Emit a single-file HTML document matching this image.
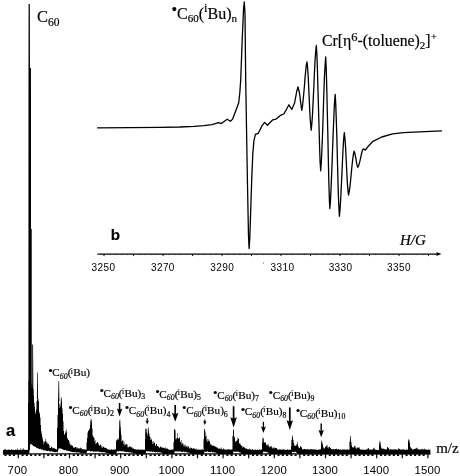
<!DOCTYPE html>
<html lang="en"><head><meta charset="utf-8"><title>Mass spectrum and EPR spectrum of C60 isobutyl radicals</title>
<style>html,body{margin:0;padding:0;background:#fff}body{width:460px;height:476px;overflow:hidden}svg{display:block}text{fill:#000;stroke:#000;stroke-width:0.18px;font-family:'Liberation Serif', serif}.sans{font-family:'Liberation Sans', sans-serif}.num{stroke:none}</style></head><body>
<svg width="460" height="476" viewBox="0 0 460 476">
<rect width="460" height="476" fill="#fff"/>
<path d="M97.6 127.8 L130 127.7 L160 127.4 L180 127 L194 126.4 L204 125.6 L212 124.6 L218.5 122.6 L221.3 123.6 L227.2 119.2 L230.4 121.3 L232.6 119.1 L235.9 110.4 L238.7 102.8 L239.8 93 L240.7 80 L242.2 40 L243.6 8 L244.3 2 L245 14 L245.7 80 L247.4 180 L248.5 236 L249.1 248.5 L249.8 238 L251.7 180 L252.8 153.9 L253.9 140.9 L255.4 134.3 L258.3 133.3 L262 125.7 L264.6 122.4 L267.4 125.2 L272.8 119.8 L276.1 119.1 L280.4 115.4 L283.7 114 L286.5 109.3 L288.9 104.8 L291.8 109.5 L294.6 103 L296.7 91.5 L298 86.8 L299.4 92.5 L301.7 110.3 L302.4 106.9 L303 101.3 L303.7 94.2 L304.4 86.2 L305 78.1 L305.7 71 L306.3 65.4 L307 62 L307.5 66.8 L308.1 74.7 L308.6 84.8 L309.1 96.1 L309.6 107.4 L310.1 117.5 L310.7 125.4 L311.2 130.2 L311.8 124.2 L312.5 114.5 L313.1 101.9 L313.8 87.8 L314.4 73.8 L315 61.2 L315.7 51.5 L316.3 45.5 L316.9 54.4 L317.4 68.8 L317.9 87.3 L318.5 108.2 L319.1 129 L319.6 147.5 L320.1 161.9 L320.7 170.8 L321.3 162.7 L321.9 149.7 L322.6 132.8 L323.2 113.9 L323.8 95 L324.4 78.1 L325.1 65.1 L325.7 57 L326.2 67.8 L326.7 85.1 L327.2 107.6 L327.8 132.8 L328.3 157.9 L328.8 180.4 L329.3 197.7 L329.8 208.5 L330.5 200.4 L331.1 187.3 L331.8 170.4 L332.5 151.5 L333.2 132.6 L333.9 115.7 L334.5 102.6 L335.2 94.5 L335.7 103.2 L336.2 117.1 L336.8 135.2 L337.3 155.4 L337.8 175.6 L338.3 193.7 L338.9 207.6 L339.4 216.3 L340 210.3 L340.6 200.7 L341.2 188.4 L341.9 174.5 L342.5 160.5 L343.1 148.2 L343.7 138.6 L344.3 132.6 L344.8 137 L345.4 144.2 L345.9 153.4 L346.4 163.8 L346.9 174.2 L347.4 183.4 L348 190.6 L348.5 195 L349.2 191.9 L349.9 186.9 L350.6 180.4 L351.3 173.1 L352 165.8 L352.7 159.3 L353.4 154.3 L354.1 151.2 L354.6 152.3 L355 154.2 L355.5 156.6 L356 159.2 L356.4 161.9 L356.9 164.3 L357.3 166.2 L357.8 167.3 L358.5 166 L359.2 163.9 L359.9 161.2 L360.6 158.1 L361.2 155 L361.9 152.3 L362.6 150.2 L363.3 148.9 L363.6 149 L363.8 149.1 L364.1 149.3 L364.4 149.4 L364.6 149.6 L364.9 149.8 L365.1 149.9 L365.4 150 L368.7 145.7 L373 141.3 L381.7 137 L392.6 133.9 L403.5 132.7 L425.2 131.6 L441.5 130.8" fill="none" stroke="#000" stroke-width="1.3" stroke-linejoin="round" stroke-linecap="round"/>
<path d="M97.5 254.1 H437" stroke="#000" stroke-width="1.3" fill="none"/>
<path d="M441.6 254.1 L436.2 252.1 L437 254.1 L436.2 256.1Z" fill="#000"/>
<path d="M104 254.1 V256.1M133.5 254.1 V256.1M163 254.1 V256.1M192.5 254.1 V256.1M222 254.1 V256.1M251.5 254.1 V256.1M281 254.1 V256.1M310.5 254.1 V256.1M340 254.1 V256.1M369.5 254.1 V256.1M399 254.1 V256.1M428.5 254.1 V256.1" stroke="#000" stroke-width="0.9" fill="none"/>
<path d="M104 254.1 V255.4M109.9 254.1 V255.4M115.8 254.1 V255.4M121.7 254.1 V255.4M127.6 254.1 V255.4M133.5 254.1 V255.4M139.4 254.1 V255.4M145.3 254.1 V255.4M151.2 254.1 V255.4M157.1 254.1 V255.4M163 254.1 V255.4M168.9 254.1 V255.4M174.8 254.1 V255.4M180.7 254.1 V255.4M186.6 254.1 V255.4M192.5 254.1 V255.4M198.4 254.1 V255.4M204.3 254.1 V255.4M210.2 254.1 V255.4M216.1 254.1 V255.4M222 254.1 V255.4M227.9 254.1 V255.4M233.8 254.1 V255.4M239.7 254.1 V255.4M245.6 254.1 V255.4M251.5 254.1 V255.4M257.4 254.1 V255.4M263.3 254.1 V255.4M269.2 254.1 V255.4M275.1 254.1 V255.4M281 254.1 V255.4M286.9 254.1 V255.4M292.8 254.1 V255.4M298.7 254.1 V255.4M304.6 254.1 V255.4M310.5 254.1 V255.4M316.4 254.1 V255.4M322.3 254.1 V255.4M328.2 254.1 V255.4M334.1 254.1 V255.4M340 254.1 V255.4M345.9 254.1 V255.4M351.8 254.1 V255.4M357.7 254.1 V255.4M363.6 254.1 V255.4M369.5 254.1 V255.4M375.4 254.1 V255.4M381.3 254.1 V255.4M387.2 254.1 V255.4M393.1 254.1 V255.4M399 254.1 V255.4M404.9 254.1 V255.4M410.8 254.1 V255.4M416.7 254.1 V255.4M422.6 254.1 V255.4M428.5 254.1 V255.4M434.4 254.1 V255.4" stroke="#000" stroke-width="0.5" fill="none" opacity="0.45"/>
<path d="M263.6 262.3 V263.9" stroke="#000" stroke-width="0.8" opacity="0.5"/>
<path d="M3 450 L3.5 450 L3.5 449.9 L4 449.9 L4 450 L4.5 450 L4.5 448.9 L5 448.9 L5 448.9 L5.5 448.9 L5.5 449.4 L6 449.4 L6 450.1 L6.5 450.1 L6.5 449.7 L7 449.7 L7 450.2 L7.5 450.2 L7.5 449.8 L8 449.8 L8 449.6 L8.5 449.6 L8.5 449.7 L9 449.7 L9 449.6 L9.5 449.6 L9.5 450.1 L10 450.1 L10 449.9 L10.5 449.9 L10.5 449.8 L11 449.8 L11 449.5 L11.5 449.5 L11.5 449.2 L12 449.2 L12 449.8 L12.5 449.8 L12.5 449.9 L13 449.9 L13 449.7 L13.5 449.7 L13.5 450 L14 450 L14 449.9 L14.5 449.9 L14.5 450.1 L15 450.1 L15 449.7 L15.5 449.7 L15.5 449.5 L16 449.5 L16 450 L16.5 450 L16.5 449.8 L17 449.8 L17 448.4 L17.5 448.4 L17.5 449.8 L18 449.8 L18 449.7 L18.5 449.7 L18.5 449.9 L19 449.9 L19 449.7 L19.5 449.7 L19.5 450.1 L20 450.1 L20 449.9 L20.5 449.9 L20.5 448.3 L21 448.3 L21 450.1 L21.5 450.1 L21.5 449.6 L22 449.6 L22 449.9 L22.5 449.9 L22.5 448.7 L23 448.7 L23 449.5 L23.5 449.5 L23.5 448.2 L24 448.2 L24 449.6 L24.5 449.6 L24.5 450 L25 450 L25 449.7 L25.5 449.7 L25.5 450 L26 450 L26 450 L26.5 450 L26.5 449.7 L27 449.7 L27 450 L27.5 450 L27.5 449.5 L28 449.5 L28 403 L28.5 403 L28.5 381 L29 381 L29 381 L29.5 381 L29.5 384.3 L30 384.3 L30 380 L30.5 380 L30.5 382 L31 382 L31 389.3 L31.5 389.3 L31.5 383.5 L32 383.5 L32 385.3 L32.5 385.3 L32.5 388.4 L33 388.4 L33 389 L33.5 389 L33.5 395.6 L34 395.6 L34 402.8 L34.5 402.8 L34.5 406.8 L35 406.8 L35 411.5 L35.5 411.5 L35.5 413.9 L36 413.9 L36 409.6 L36.5 409.6 L36.5 401.2 L37 401.2 L37 395.2 L37.5 395.2 L37.5 399.7 L38 399.7 L38 398.7 L38.5 398.7 L38.5 401.6 L39 401.6 L39 411.9 L39.5 411.9 L39.5 413.7 L40 413.7 L40 417.6 L40.5 417.6 L40.5 424.9 L41 424.9 L41 434.1 L41.5 434.1 L41.5 431.3 L42 431.3 L42 436.7 L42.5 436.7 L42.5 439.3 L43 439.3 L43 441.2 L43.5 441.2 L43.5 444.2 L44 444.2 L44 442.5 L44.5 442.5 L44.5 441.2 L45 441.2 L45 441.3 L45.5 441.3 L45.5 438.7 L46 438.7 L46 441.3 L46.5 441.3 L46.5 442.9 L47 442.9 L47 443.9 L47.5 443.9 L47.5 442.6 L48 442.6 L48 443.9 L48.5 443.9 L48.5 444 L49 444 L49 445.1 L49.5 445.1 L49.5 447.7 L50 447.7 L50 447.9 L50.5 447.9 L50.5 448.1 L51 448.1 L51 446.6 L51.5 446.6 L51.5 446.9 L52 446.9 L52 447.8 L52.5 447.8 L52.5 448.5 L53 448.5 L53 448.3 L53.5 448.3 L53.5 447.7 L54 447.7 L54 448.4 L54.5 448.4 L54.5 448.2 L55 448.2 L55 448.8 L55.5 448.8 L55.5 449 L56 449 L56 449 L56.5 449 L56.5 449.7 L57 449.7 L57 428.1 L57.5 428.1 L57.5 415.1 L58 415.1 L58 400.8 L58.5 400.8 L58.5 397.8 L59 397.8 L59 407.8 L59.5 407.8 L59.5 403.6 L60 403.6 L60 403.8 L60.5 403.8 L60.5 406.3 L61 406.3 L61 399.2 L61.5 399.2 L61.5 401.9 L62 401.9 L62 408.3 L62.5 408.3 L62.5 413.7 L63 413.7 L63 421.5 L63.5 421.5 L63.5 430.9 L64 430.9 L64 434.5 L64.5 434.5 L64.5 434.3 L65 434.3 L65 433.1 L65.5 433.1 L65.5 430.9 L66 430.9 L66 429.2 L66.5 429.2 L66.5 432.3 L67 432.3 L67 438.7 L67.5 438.7 L67.5 437.7 L68 437.7 L68 440.3 L68.5 440.3 L68.5 439.9 L69 439.9 L69 441.2 L69.5 441.2 L69.5 444 L70 444 L70 443.6 L70.5 443.6 L70.5 445.8 L71 445.8 L71 445 L71.5 445 L71.5 445.2 L72 445.2 L72 445.4 L72.5 445.4 L72.5 445.9 L73 445.9 L73 446.9 L73.5 446.9 L73.5 448 L74 448 L74 447.2 L74.5 447.2 L74.5 448.1 L75 448.1 L75 446.9 L75.5 446.9 L75.5 447 L76 447 L76 447.2 L76.5 447.2 L76.5 448.4 L77 448.4 L77 447.6 L77.5 447.6 L77.5 448.4 L78 448.4 L78 448.5 L78.5 448.5 L78.5 448.2 L79 448.2 L79 448.6 L79.5 448.6 L79.5 448.4 L80 448.4 L80 448.4 L80.5 448.4 L80.5 447.4 L81 447.4 L81 448.1 L81.5 448.1 L81.5 448.8 L82 448.8 L82 449.5 L82.5 449.5 L82.5 448.9 L83 448.9 L83 449.1 L83.5 449.1 L83.5 449.7 L84 449.7 L84 449.8 L84.5 449.8 L84.5 449.2 L85 449.2 L85 449.4 L85.5 449.4 L85.5 449.6 L86 449.6 L86 449.7 L86.5 449.7 L86.5 442.4 L87 442.4 L87 432.6 L87.5 432.6 L87.5 437.9 L88 437.9 L88 430.7 L88.5 430.7 L88.5 430.8 L89 430.8 L89 429.5 L89.5 429.5 L89.5 428.4 L90 428.4 L90 425.2 L90.5 425.2 L90.5 420.8 L91 420.8 L91 419.8 L91.5 419.8 L91.5 422.7 L92 422.7 L92 428.5 L92.5 428.5 L92.5 435.4 L93 435.4 L93 437.5 L93.5 437.5 L93.5 436.5 L94 436.5 L94 438.1 L94.5 438.1 L94.5 441.4 L95 441.4 L95 440.2 L95.5 440.2 L95.5 444.1 L96 444.1 L96 443.6 L96.5 443.6 L96.5 442.9 L97 442.9 L97 442.1 L97.5 442.1 L97.5 442.1 L98 442.1 L98 444.6 L98.5 444.6 L98.5 443 L99 443 L99 445.7 L99.5 445.7 L99.5 445.2 L100 445.2 L100 444.3 L100.5 444.3 L100.5 445.2 L101 445.2 L101 445.5 L101.5 445.5 L101.5 447.5 L102 447.5 L102 446.4 L102.5 446.4 L102.5 447.9 L103 447.9 L103 446.6 L103.5 446.6 L103.5 447 L104 447 L104 447.5 L104.5 447.5 L104.5 447.8 L105 447.8 L105 447.7 L105.5 447.7 L105.5 447.9 L106 447.9 L106 448.1 L106.5 448.1 L106.5 448.6 L107 448.6 L107 448.9 L107.5 448.9 L107.5 449.4 L108 449.4 L108 449.3 L108.5 449.3 L108.5 449.7 L109 449.7 L109 449.7 L109.5 449.7 L109.5 449.6 L110 449.6 L110 449.8 L110.5 449.8 L110.5 449.7 L111 449.7 L111 449.3 L111.5 449.3 L111.5 449.5 L112 449.5 L112 449.8 L112.5 449.8 L112.5 449.7 L113 449.7 L113 449.7 L113.5 449.7 L113.5 449.3 L114 449.3 L114 449.8 L114.5 449.8 L114.5 449.6 L115 449.6 L115 449.3 L115.5 449.3 L115.5 449.4 L116 449.4 L116 441.2 L116.5 441.2 L116.5 439.8 L117 439.8 L117 439.5 L117.5 439.5 L117.5 439.3 L118 439.3 L118 439.9 L118.5 439.9 L118.5 437.9 L119 437.9 L119 430.8 L119.5 430.8 L119.5 420.8 L120 420.8 L120 427 L120.5 427 L120.5 431.4 L121 431.4 L121 434.8 L121.5 434.8 L121.5 441.5 L122 441.5 L122 441 L122.5 441 L122.5 440 L123 440 L123 440.8 L123.5 440.8 L123.5 444.3 L124 444.3 L124 445.4 L124.5 445.4 L124.5 442.2 L125 442.2 L125 445.2 L125.5 445.2 L125.5 444.1 L126 444.1 L126 444 L126.5 444 L126.5 444.3 L127 444.3 L127 444.6 L127.5 444.6 L127.5 447.2 L128 447.2 L128 446.9 L128.5 446.9 L128.5 447.4 L129 447.4 L129 446 L129.5 446 L129.5 446.7 L130 446.7 L130 446.4 L130.5 446.4 L130.5 447.2 L131 447.2 L131 447 L131.5 447 L131.5 447.4 L132 447.4 L132 447.4 L132.5 447.4 L132.5 448.8 L133 448.8 L133 448.4 L133.5 448.4 L133.5 448.5 L134 448.5 L134 449.2 L134.5 449.2 L134.5 449.1 L135 449.1 L135 449.5 L135.5 449.5 L135.5 449.2 L136 449.2 L136 449.2 L136.5 449.2 L136.5 449.7 L137 449.7 L137 449.8 L137.5 449.8 L137.5 449.6 L138 449.6 L138 449.3 L138.5 449.3 L138.5 449.7 L139 449.7 L139 449.9 L139.5 449.9 L139.5 449.5 L140 449.5 L140 449.5 L140.5 449.5 L140.5 449.7 L141 449.7 L141 449.9 L141.5 449.9 L141.5 449.6 L142 449.6 L142 449.6 L142.5 449.6 L142.5 449.7 L143 449.7 L143 449.5 L143.5 449.5 L143.5 450 L144 450 L144 449.5 L144.5 449.5 L144.5 450.1 L145 450.1 L145 438.4 L145.5 438.4 L145.5 429.2 L146 429.2 L146 429 L146.5 429 L146.5 432.5 L147 432.5 L147 433.7 L147.5 433.7 L147.5 435.9 L148 435.9 L148 429.8 L148.5 429.8 L148.5 431.7 L149 431.7 L149 433.7 L149.5 433.7 L149.5 436.5 L150 436.5 L150 437.1 L150.5 437.1 L150.5 440.1 L151 440.1 L151 438.8 L151.5 438.8 L151.5 439.8 L152 439.8 L152 441.4 L152.5 441.4 L152.5 444 L153 444 L153 441.2 L153.5 441.2 L153.5 443.8 L154 443.8 L154 443.1 L154.5 443.1 L154.5 442.3 L155 442.3 L155 445.7 L155.5 445.7 L155.5 445.6 L156 445.6 L156 443.9 L156.5 443.9 L156.5 444.1 L157 444.1 L157 445.9 L157.5 445.9 L157.5 446.3 L158 446.3 L158 446.8 L158.5 446.8 L158.5 446.5 L159 446.5 L159 447.4 L159.5 447.4 L159.5 448 L160 448 L160 446.6 L160.5 446.6 L160.5 446.7 L161 446.7 L161 447.7 L161.5 447.7 L161.5 446.9 L162 446.9 L162 447.8 L162.5 447.8 L162.5 447.4 L163 447.4 L163 447.4 L163.5 447.4 L163.5 448 L164 448 L164 448.5 L164.5 448.5 L164.5 448 L165 448 L165 448.5 L165.5 448.5 L165.5 447.3 L166 447.3 L166 448.5 L166.5 448.5 L166.5 448.8 L167 448.8 L167 448.9 L167.5 448.9 L167.5 448.3 L168 448.3 L168 449.4 L168.5 449.4 L168.5 449.6 L169 449.6 L169 449.5 L169.5 449.5 L169.5 449.9 L170 449.9 L170 449.9 L170.5 449.9 L170.5 449.6 L171 449.6 L171 449.6 L171.5 449.6 L171.5 449.8 L172 449.8 L172 449.6 L172.5 449.6 L172.5 449.8 L173 449.8 L173 449.5 L173.5 449.5 L173.5 442.1 L174 442.1 L174 431.1 L174.5 431.1 L174.5 429.3 L175 429.3 L175 430.3 L175.5 430.3 L175.5 439 L176 439 L176 438 L176.5 438 L176.5 439.2 L177 439.2 L177 433 L177.5 433 L177.5 438 L178 438 L178 438.7 L178.5 438.7 L178.5 438.4 L179 438.4 L179 437.7 L179.5 437.7 L179.5 437.5 L180 437.5 L180 441.7 L180.5 441.7 L180.5 442.1 L181 442.1 L181 440.1 L181.5 440.1 L181.5 444.4 L182 444.4 L182 442.8 L182.5 442.8 L182.5 443.8 L183 443.8 L183 443.7 L183.5 443.7 L183.5 446.3 L184 446.3 L184 444.7 L184.5 444.7 L184.5 446.2 L185 446.2 L185 444.7 L185.5 444.7 L185.5 447.1 L186 447.1 L186 446.7 L186.5 446.7 L186.5 445.8 L187 445.8 L187 447.8 L187.5 447.8 L187.5 446.1 L188 446.1 L188 446.5 L188.5 446.5 L188.5 446.4 L189 446.4 L189 448.3 L189.5 448.3 L189.5 448.5 L190 448.5 L190 447.3 L190.5 447.3 L190.5 448.8 L191 448.8 L191 447.8 L191.5 447.8 L191.5 447.9 L192 447.9 L192 449 L192.5 449 L192.5 448.3 L193 448.3 L193 448.5 L193.5 448.5 L193.5 448.3 L194 448.3 L194 448.5 L194.5 448.5 L194.5 448.7 L195 448.7 L195 449.3 L195.5 449.3 L195.5 449 L196 449 L196 448.2 L196.5 448.2 L196.5 449.9 L197 449.9 L197 449.9 L197.5 449.9 L197.5 449.3 L198 449.3 L198 449.6 L198.5 449.6 L198.5 449.6 L199 449.6 L199 449.6 L199.5 449.6 L199.5 449.8 L200 449.8 L200 449.9 L200.5 449.9 L200.5 449.4 L201 449.4 L201 449.5 L201.5 449.5 L201.5 449.6 L202 449.6 L202 449.5 L202.5 449.5 L202.5 449.5 L203 449.5 L203 450 L203.5 450 L203.5 439.2 L204 439.2 L204 431.1 L204.5 431.1 L204.5 437.5 L205 437.5 L205 431.4 L205.5 431.4 L205.5 436.8 L206 436.8 L206 435.4 L206.5 435.4 L206.5 440.5 L207 440.5 L207 442 L207.5 442 L207.5 439 L208 439 L208 439.2 L208.5 439.2 L208.5 441.1 L209 441.1 L209 440.5 L209.5 440.5 L209.5 442 L210 442 L210 444.8 L210.5 444.8 L210.5 443.5 L211 443.5 L211 445.2 L211.5 445.2 L211.5 444.8 L212 444.8 L212 444.8 L212.5 444.8 L212.5 446 L213 446 L213 445.5 L213.5 445.5 L213.5 445.9 L214 445.9 L214 445.9 L214.5 445.9 L214.5 446.2 L215 446.2 L215 447 L215.5 447 L215.5 446.6 L216 446.6 L216 447.5 L216.5 447.5 L216.5 447.1 L217 447.1 L217 448.2 L217.5 448.2 L217.5 447.6 L218 447.6 L218 449 L218.5 449 L218.5 448.3 L219 448.3 L219 448.2 L219.5 448.2 L219.5 448.8 L220 448.8 L220 448.4 L220.5 448.4 L220.5 448.9 L221 448.9 L221 447.4 L221.5 447.4 L221.5 449.5 L222 449.5 L222 449.5 L222.5 449.5 L222.5 449 L223 449 L223 448.1 L223.5 448.1 L223.5 449.6 L224 449.6 L224 449.4 L224.5 449.4 L224.5 449.4 L225 449.4 L225 449.2 L225.5 449.2 L225.5 449.7 L226 449.7 L226 449.4 L226.5 449.4 L226.5 449.8 L227 449.8 L227 449.2 L227.5 449.2 L227.5 449.8 L228 449.8 L228 449.2 L228.5 449.2 L228.5 449.5 L229 449.5 L229 449.6 L229.5 449.6 L229.5 449.3 L230 449.3 L230 449.4 L230.5 449.4 L230.5 449.9 L231 449.9 L231 449.4 L231.5 449.4 L231.5 449.6 L232 449.6 L232 449.6 L232.5 449.6 L232.5 436.2 L233 436.2 L233 431 L233.5 431 L233.5 437 L234 437 L234 436.2 L234.5 436.2 L234.5 438 L235 438 L235 441.1 L235.5 441.1 L235.5 442.2 L236 442.2 L236 440.8 L236.5 440.8 L236.5 441 L237 441 L237 440.2 L237.5 440.2 L237.5 437.6 L238 437.6 L238 438.7 L238.5 438.7 L238.5 438.8 L239 438.8 L239 443.7 L239.5 443.7 L239.5 443.1 L240 443.1 L240 443.7 L240.5 443.7 L240.5 445.1 L241 445.1 L241 445.7 L241.5 445.7 L241.5 445.8 L242 445.8 L242 446.1 L242.5 446.1 L242.5 447.7 L243 447.7 L243 447.2 L243.5 447.2 L243.5 446.8 L244 446.8 L244 447.6 L244.5 447.6 L244.5 447.6 L245 447.6 L245 449 L245.5 449 L245.5 447.8 L246 447.8 L246 448.6 L246.5 448.6 L246.5 448.6 L247 448.6 L247 448.9 L247.5 448.9 L247.5 449.4 L248 449.4 L248 448.9 L248.5 448.9 L248.5 449.6 L249 449.6 L249 448.6 L249.5 448.6 L249.5 449.3 L250 449.3 L250 449.4 L250.5 449.4 L250.5 449.4 L251 449.4 L251 449.9 L251.5 449.9 L251.5 449.5 L252 449.5 L252 449.5 L252.5 449.5 L252.5 449 L253 449 L253 449.9 L253.5 449.9 L253.5 449.9 L254 449.9 L254 449.8 L254.5 449.8 L254.5 449.7 L255 449.7 L255 449.5 L255.5 449.5 L255.5 449.7 L256 449.7 L256 449.9 L256.5 449.9 L256.5 450 L257 450 L257 449.6 L257.5 449.6 L257.5 449.5 L258 449.5 L258 449.7 L258.5 449.7 L258.5 449.9 L259 449.9 L259 449.4 L259.5 449.4 L259.5 449.4 L260 449.4 L260 449.5 L260.5 449.5 L260.5 450 L261 450 L261 449.8 L261.5 449.8 L261.5 449.3 L262 449.3 L262 443 L262.5 443 L262.5 438.4 L263 438.4 L263 438.9 L263.5 438.9 L263.5 442.8 L264 442.8 L264 442 L264.5 442 L264.5 443 L265 443 L265 442.5 L265.5 442.5 L265.5 442.5 L266 442.5 L266 444.9 L266.5 444.9 L266.5 444.7 L267 444.7 L267 444.4 L267.5 444.4 L267.5 445.8 L268 445.8 L268 443.7 L268.5 443.7 L268.5 446.3 L269 446.3 L269 447.6 L269.5 447.6 L269.5 446.2 L270 446.2 L270 446.8 L270.5 446.8 L270.5 446.2 L271 446.2 L271 445.8 L271.5 445.8 L271.5 447.2 L272 447.2 L272 447.4 L272.5 447.4 L272.5 448.7 L273 448.7 L273 448.2 L273.5 448.2 L273.5 447.4 L274 447.4 L274 448.6 L274.5 448.6 L274.5 447.2 L275 447.2 L275 447.9 L275.5 447.9 L275.5 448 L276 448 L276 448 L276.5 448 L276.5 448.3 L277 448.3 L277 449.6 L277.5 449.6 L277.5 449.4 L278 449.4 L278 449.6 L278.5 449.6 L278.5 449.8 L279 449.8 L279 449.5 L279.5 449.5 L279.5 449.3 L280 449.3 L280 449.8 L280.5 449.8 L280.5 449.3 L281 449.3 L281 449.8 L281.5 449.8 L281.5 449.8 L282 449.8 L282 449.4 L282.5 449.4 L282.5 449.4 L283 449.4 L283 448.8 L283.5 448.8 L283.5 449.8 L284 449.8 L284 449.8 L284.5 449.8 L284.5 449.7 L285 449.7 L285 449.9 L285.5 449.9 L285.5 449.5 L286 449.5 L286 450 L286.5 450 L286.5 449.9 L287 449.9 L287 448.9 L287.5 448.9 L287.5 449.8 L288 449.8 L288 449.8 L288.5 449.8 L288.5 449.9 L289 449.9 L289 449.5 L289.5 449.5 L289.5 449.8 L290 449.8 L290 449.8 L290.5 449.8 L290.5 449.7 L291 449.7 L291 446 L291.5 446 L291.5 440.1 L292 440.1 L292 437 L292.5 437 L292.5 438.5 L293 438.5 L293 439.7 L293.5 439.7 L293.5 443.1 L294 443.1 L294 445.4 L294.5 445.4 L294.5 445.5 L295 445.5 L295 446.1 L295.5 446.1 L295.5 445.4 L296 445.4 L296 445.5 L296.5 445.5 L296.5 444.1 L297 444.1 L297 441.8 L297.5 441.8 L297.5 444.4 L298 444.4 L298 447.5 L298.5 447.5 L298.5 446.3 L299 446.3 L299 448 L299.5 448 L299.5 448 L300 448 L300 446 L300.5 446 L300.5 446.5 L301 446.5 L301 447.4 L301.5 447.4 L301.5 446.9 L302 446.9 L302 449.3 L302.5 449.3 L302.5 449.3 L303 449.3 L303 449 L303.5 449 L303.5 449.4 L304 449.4 L304 449.1 L304.5 449.1 L304.5 448.9 L305 448.9 L305 449.1 L305.5 449.1 L305.5 449.2 L306 449.2 L306 449.6 L306.5 449.6 L306.5 449.6 L307 449.6 L307 449 L307.5 449 L307.5 449.3 L308 449.3 L308 449.3 L308.5 449.3 L308.5 449.4 L309 449.4 L309 449.6 L309.5 449.6 L309.5 449.6 L310 449.6 L310 449.1 L310.5 449.1 L310.5 449.6 L311 449.6 L311 449.1 L311.5 449.1 L311.5 449.5 L312 449.5 L312 449.3 L312.5 449.3 L312.5 449.4 L313 449.4 L313 449.3 L313.5 449.3 L313.5 449.4 L314 449.4 L314 449.7 L314.5 449.7 L314.5 449.3 L315 449.3 L315 449.3 L315.5 449.3 L315.5 449.7 L316 449.7 L316 449.7 L316.5 449.7 L316.5 449.5 L317 449.5 L317 449.9 L317.5 449.9 L317.5 449.9 L318 449.9 L318 448.9 L318.5 448.9 L318.5 449.9 L319 449.9 L319 449.6 L319.5 449.6 L319.5 449.5 L320 449.5 L320 449.7 L320.5 449.7 L320.5 448.7 L321 448.7 L321 444.2 L321.5 444.2 L321.5 442.8 L322 442.8 L322 442.5 L322.5 442.5 L322.5 444.8 L323 444.8 L323 446.7 L323.5 446.7 L323.5 448.6 L324 448.6 L324 448.3 L324.5 448.3 L324.5 448.6 L325 448.6 L325 447.2 L325.5 447.2 L325.5 446.5 L326 446.5 L326 446.5 L326.5 446.5 L326.5 445.2 L327 445.2 L327 445.3 L327.5 445.3 L327.5 447.7 L328 447.7 L328 448.6 L328.5 448.6 L328.5 447.1 L329 447.1 L329 446.7 L329.5 446.7 L329.5 447.1 L330 447.1 L330 448.3 L330.5 448.3 L330.5 448.1 L331 448.1 L331 449 L331.5 449 L331.5 449.2 L332 449.2 L332 449.1 L332.5 449.1 L332.5 449.6 L333 449.6 L333 449 L333.5 449 L333.5 449 L334 449 L334 449.6 L334.5 449.6 L334.5 449.5 L335 449.5 L335 449.1 L335.5 449.1 L335.5 449 L336 449 L336 449.3 L336.5 449.3 L336.5 448.4 L337 448.4 L337 449.5 L337.5 449.5 L337.5 449.5 L338 449.5 L338 449.1 L338.5 449.1 L338.5 449.3 L339 449.3 L339 449.7 L339.5 449.7 L339.5 449.5 L340 449.5 L340 449.4 L340.5 449.4 L340.5 449.6 L341 449.6 L341 449.7 L341.5 449.7 L341.5 449.7 L342 449.7 L342 449.6 L342.5 449.6 L342.5 449.4 L343 449.4 L343 449.2 L343.5 449.2 L343.5 449.7 L344 449.7 L344 449.6 L344.5 449.6 L344.5 449.5 L345 449.5 L345 449.7 L345.5 449.7 L345.5 449.7 L346 449.7 L346 449.4 L346.5 449.4 L346.5 449.8 L347 449.8 L347 449.6 L347.5 449.6 L347.5 449.3 L348 449.3 L348 449.4 L348.5 449.4 L348.5 450 L349 450 L349 449.4 L349.5 449.4 L349.5 441.7 L350 441.7 L350 438.3 L350.5 438.3 L350.5 440.1 L351 440.1 L351 442.1 L351.5 442.1 L351.5 445.6 L352 445.6 L352 447.2 L352.5 447.2 L352.5 447.3 L353 447.3 L353 447.1 L353.5 447.1 L353.5 448 L354 448 L354 445.7 L354.5 445.7 L354.5 446.5 L355 446.5 L355 446.2 L355.5 446.2 L355.5 448.3 L356 448.3 L356 447.7 L356.5 447.7 L356.5 449.1 L357 449.1 L357 447.7 L357.5 447.7 L357.5 447.3 L358 447.3 L358 447.4 L358.5 447.4 L358.5 447.8 L359 447.8 L359 447.2 L359.5 447.2 L359.5 448.8 L360 448.8 L360 449.3 L360.5 449.3 L360.5 449.8 L361 449.8 L361 449.6 L361.5 449.6 L361.5 449.8 L362 449.8 L362 449.4 L362.5 449.4 L362.5 449.8 L363 449.8 L363 449.7 L363.5 449.7 L363.5 449.6 L364 449.6 L364 449.9 L364.5 449.9 L364.5 449.7 L365 449.7 L365 449.8 L365.5 449.8 L365.5 449.5 L366 449.5 L366 449.3 L366.5 449.3 L366.5 449.5 L367 449.5 L367 449.4 L367.5 449.4 L367.5 448.4 L368 448.4 L368 448.2 L368.5 448.2 L368.5 448.3 L369 448.3 L369 449.4 L369.5 449.4 L369.5 449.5 L370 449.5 L370 449.5 L370.5 449.5 L370.5 449.7 L371 449.7 L371 449.9 L371.5 449.9 L371.5 449.3 L372 449.3 L372 449.9 L372.5 449.9 L372.5 448.9 L373 448.9 L373 448.8 L373.5 448.8 L373.5 447.9 L374 447.9 L374 447.6 L374.5 447.6 L374.5 449.4 L375 449.4 L375 449.4 L375.5 449.4 L375.5 449.8 L376 449.8 L376 449.4 L376.5 449.4 L376.5 449.9 L377 449.9 L377 449.9 L377.5 449.9 L377.5 449.9 L378 449.9 L378 450 L378.5 450 L378.5 449.9 L379 449.9 L379 445.6 L379.5 445.6 L379.5 443.2 L380 443.2 L380 442.5 L380.5 442.5 L380.5 445.6 L381 445.6 L381 447.4 L381.5 447.4 L381.5 448.4 L382 448.4 L382 448.4 L382.5 448.4 L382.5 449.1 L383 449.1 L383 448.2 L383.5 448.2 L383.5 449.3 L384 449.3 L384 449.3 L384.5 449.3 L384.5 449 L385 449 L385 449.3 L385.5 449.3 L385.5 449.4 L386 449.4 L386 449.2 L386.5 449.2 L386.5 449.6 L387 449.6 L387 447 L387.5 447 L387.5 446.9 L388 446.9 L388 448.2 L388.5 448.2 L388.5 448 L389 448 L389 449.6 L389.5 449.6 L389.5 449.7 L390 449.7 L390 449.3 L390.5 449.3 L390.5 449 L391 449 L391 449.4 L391.5 449.4 L391.5 449.6 L392 449.6 L392 449.4 L392.5 449.4 L392.5 449.6 L393 449.6 L393 449.4 L393.5 449.4 L393.5 449.4 L394 449.4 L394 449.3 L394.5 449.3 L394.5 449.4 L395 449.4 L395 449.3 L395.5 449.3 L395.5 449.8 L396 449.8 L396 449.7 L396.5 449.7 L396.5 449.3 L397 449.3 L397 449.5 L397.5 449.5 L397.5 449.7 L398 449.7 L398 448 L398.5 448 L398.5 449.5 L399 449.5 L399 448.7 L399.5 448.7 L399.5 448.9 L400 448.9 L400 449.6 L400.5 449.6 L400.5 449.8 L401 449.8 L401 449.6 L401.5 449.6 L401.5 449.7 L402 449.7 L402 449.6 L402.5 449.6 L402.5 449.4 L403 449.4 L403 449.6 L403.5 449.6 L403.5 449.3 L404 449.3 L404 449.3 L404.5 449.3 L404.5 449.9 L405 449.9 L405 449.5 L405.5 449.5 L405.5 449.9 L406 449.9 L406 449.5 L406.5 449.5 L406.5 449.6 L407 449.6 L407 449.6 L407.5 449.6 L407.5 450 L408 450 L408 441 L408.5 441 L408.5 441.2 L409 441.2 L409 440.3 L409.5 440.3 L409.5 442.7 L410 442.7 L410 446.7 L410.5 446.7 L410.5 447.5 L411 447.5 L411 448.8 L411.5 448.8 L411.5 448.1 L412 448.1 L412 449.4 L412.5 449.4 L412.5 449.6 L413 449.6 L413 449.2 L413.5 449.2 L413.5 449.4 L414 449.4 L414 449.1 L414.5 449.1 L414.5 448.9 L415 448.9 L415 449 L415.5 449 L415.5 448.3 L416 448.3 L416 448.6 L416.5 448.6 L416.5 447.7 L417 447.7 L417 447.8 L417.5 447.8 L417.5 449.5 L418 449.5 L418 449 L418.5 449 L418.5 449.5 L419 449.5 L419 449.5 L419.5 449.5 L419.5 449.5 L420 449.5 L420 449.4 L420.5 449.4 L420.5 449.2 L421 449.2 L421 449.6 L421.5 449.6 L421.5 449.1 L422 449.1 L422 449.7 L422.5 449.7 L422.5 448.6 L423 448.6 L423 449.2 L423.5 449.2 L423.5 449.5 L424 449.5 L424 448.6 L424.5 448.6 L424.5 449.5 L425 449.5 L425 449.3 L425.5 449.3 L425.5 449.5 L426 449.5 L426 449.7 L426.5 449.7 L426.5 449.5 L427 449.5 L427 449.9 L427.5 449.9 L427.5 449.7 L428 449.7 L428 449.3 L428.5 449.3 L428.5 449.8 L429 449.8 L429 449.5 L429.5 449.5 L429.5 450 L430 450 L430 449.8 L430.4 449.8 L430.4 454.2 L430 454.2 L430 454.2 L429.5 454.2 L429.5 454.2 L429 454.2 L429 454.2 L428.5 454.2 L428.5 454.2 L428 454.2 L428 454.2 L427.5 454.2 L427.5 454.2 L427 454.2 L427 454.2 L426.5 454.2 L426.5 454.2 L426 454.2 L426 454.2 L425.5 454.2 L425.5 454.2 L425 454.2 L425 454.2 L424.5 454.2 L424.5 454.2 L424 454.2 L424 454.2 L423.5 454.2 L423.5 454.2 L423 454.2 L423 454.2 L422.5 454.2 L422.5 454.2 L422 454.2 L422 454.2 L421.5 454.2 L421.5 454.2 L421 454.2 L421 454.2 L420.5 454.2 L420.5 454.2 L420 454.2 L420 454.2 L419.5 454.2 L419.5 454.2 L419 454.2 L419 454.2 L418.5 454.2 L418.5 454.2 L418 454.2 L418 454.2 L417.5 454.2 L417.5 454.2 L417 454.2 L417 454.2 L416.5 454.2 L416.5 454.2 L416 454.2 L416 454.2 L415.5 454.2 L415.5 454.2 L415 454.2 L415 454.2 L414.5 454.2 L414.5 454.2 L414 454.2 L414 454.2 L413.5 454.2 L413.5 454.2 L413 454.2 L413 454.2 L412.5 454.2 L412.5 454.2 L412 454.2 L412 454.2 L411.5 454.2 L411.5 454.2 L411 454.2 L411 454.2 L410.5 454.2 L410.5 454.2 L410 454.2 L410 454.2 L409.5 454.2 L409.5 454.2 L409 454.2 L409 454.2 L408.5 454.2 L408.5 454.2 L408 454.2 L408 454.2 L407.5 454.2 L407.5 454.2 L407 454.2 L407 454.2 L406.5 454.2 L406.5 454.2 L406 454.2 L406 454.2 L405.5 454.2 L405.5 454.2 L405 454.2 L405 454.2 L404.5 454.2 L404.5 454.2 L404 454.2 L404 454.2 L403.5 454.2 L403.5 454.2 L403 454.2 L403 454.2 L402.5 454.2 L402.5 454.2 L402 454.2 L402 454.2 L401.5 454.2 L401.5 454.2 L401 454.2 L401 454.2 L400.5 454.2 L400.5 454.2 L400 454.2 L400 454.2 L399.5 454.2 L399.5 454.2 L399 454.2 L399 454.2 L398.5 454.2 L398.5 454.2 L398 454.2 L398 454.2 L397.5 454.2 L397.5 454.2 L397 454.2 L397 454.2 L396.5 454.2 L396.5 454.2 L396 454.2 L396 454.2 L395.5 454.2 L395.5 454.2 L395 454.2 L395 454.2 L394.5 454.2 L394.5 454.2 L394 454.2 L394 454.2 L393.5 454.2 L393.5 454.2 L393 454.2 L393 454.2 L392.5 454.2 L392.5 454.2 L392 454.2 L392 454.2 L391.5 454.2 L391.5 454.2 L391 454.2 L391 454.2 L390.5 454.2 L390.5 454.2 L390 454.2 L390 454.2 L389.5 454.2 L389.5 454.2 L389 454.2 L389 454.2 L388.5 454.2 L388.5 454.2 L388 454.2 L388 454.2 L387.5 454.2 L387.5 454.2 L387 454.2 L387 454.2 L386.5 454.2 L386.5 454.2 L386 454.2 L386 454.2 L385.5 454.2 L385.5 454.2 L385 454.2 L385 454.2 L384.5 454.2 L384.5 454.2 L384 454.2 L384 454.2 L383.5 454.2 L383.5 454.2 L383 454.2 L383 454.2 L382.5 454.2 L382.5 454.2 L382 454.2 L382 454.2 L381.5 454.2 L381.5 454.2 L381 454.2 L381 454.2 L380.5 454.2 L380.5 454.2 L380 454.2 L380 454.2 L379.5 454.2 L379.5 454.2 L379 454.2 L379 454.2 L378.5 454.2 L378.5 454.2 L378 454.2 L378 454.2 L377.5 454.2 L377.5 454.2 L377 454.2 L377 454.2 L376.5 454.2 L376.5 454.2 L376 454.2 L376 454.2 L375.5 454.2 L375.5 454.2 L375 454.2 L375 454.2 L374.5 454.2 L374.5 454.2 L374 454.2 L374 454.2 L373.5 454.2 L373.5 454.2 L373 454.2 L373 454.2 L372.5 454.2 L372.5 454.2 L372 454.2 L372 454.2 L371.5 454.2 L371.5 454.2 L371 454.2 L371 454.2 L370.5 454.2 L370.5 454.2 L370 454.2 L370 454.2 L369.5 454.2 L369.5 454.2 L369 454.2 L369 454.2 L368.5 454.2 L368.5 454.2 L368 454.2 L368 454.2 L367.5 454.2 L367.5 454.2 L367 454.2 L367 454.2 L366.5 454.2 L366.5 454.2 L366 454.2 L366 454.2 L365.5 454.2 L365.5 454.2 L365 454.2 L365 454.2 L364.5 454.2 L364.5 454.2 L364 454.2 L364 454.2 L363.5 454.2 L363.5 454.2 L363 454.2 L363 454.2 L362.5 454.2 L362.5 454.2 L362 454.2 L362 454.2 L361.5 454.2 L361.5 454.2 L361 454.2 L361 454.2 L360.5 454.2 L360.5 454.2 L360 454.2 L360 454.2 L359.5 454.2 L359.5 454.2 L359 454.2 L359 454.2 L358.5 454.2 L358.5 454.2 L358 454.2 L358 454.2 L357.5 454.2 L357.5 454.2 L357 454.2 L357 454.2 L356.5 454.2 L356.5 454.2 L356 454.2 L356 454.2 L355.5 454.2 L355.5 454.2 L355 454.2 L355 454.2 L354.5 454.2 L354.5 454.2 L354 454.2 L354 454.2 L353.5 454.2 L353.5 454.2 L353 454.2 L353 454.2 L352.5 454.2 L352.5 454.2 L352 454.2 L352 454.2 L351.5 454.2 L351.5 454.2 L351 454.2 L351 454.2 L350.5 454.2 L350.5 454.2 L350 454.2 L350 454.2 L349.5 454.2 L349.5 454.2 L349 454.2 L349 454.2 L348.5 454.2 L348.5 454.2 L348 454.2 L348 454.2 L347.5 454.2 L347.5 454.2 L347 454.2 L347 454.2 L346.5 454.2 L346.5 454.2 L346 454.2 L346 454.2 L345.5 454.2 L345.5 454.2 L345 454.2 L345 454.2 L344.5 454.2 L344.5 454.2 L344 454.2 L344 454.2 L343.5 454.2 L343.5 454.2 L343 454.2 L343 454.2 L342.5 454.2 L342.5 454.2 L342 454.2 L342 454.2 L341.5 454.2 L341.5 454.2 L341 454.2 L341 454.2 L340.5 454.2 L340.5 454.2 L340 454.2 L340 454.2 L339.5 454.2 L339.5 454.2 L339 454.2 L339 454.2 L338.5 454.2 L338.5 454.2 L338 454.2 L338 454.2 L337.5 454.2 L337.5 454.2 L337 454.2 L337 454.2 L336.5 454.2 L336.5 454.2 L336 454.2 L336 454.2 L335.5 454.2 L335.5 454.2 L335 454.2 L335 454.2 L334.5 454.2 L334.5 454.2 L334 454.2 L334 454.2 L333.5 454.2 L333.5 454.2 L333 454.2 L333 454.2 L332.5 454.2 L332.5 454.2 L332 454.2 L332 454.2 L331.5 454.2 L331.5 454.2 L331 454.2 L331 454.2 L330.5 454.2 L330.5 454.2 L330 454.2 L330 454.2 L329.5 454.2 L329.5 454.2 L329 454.2 L329 454.2 L328.5 454.2 L328.5 454.2 L328 454.2 L328 454.2 L327.5 454.2 L327.5 454.2 L327 454.2 L327 454.2 L326.5 454.2 L326.5 454.2 L326 454.2 L326 454.2 L325.5 454.2 L325.5 454.2 L325 454.2 L325 454.2 L324.5 454.2 L324.5 454.2 L324 454.2 L324 454.2 L323.5 454.2 L323.5 454.2 L323 454.2 L323 454.2 L322.5 454.2 L322.5 454.2 L322 454.2 L322 454.2 L321.5 454.2 L321.5 454.2 L321 454.2 L321 454.2 L320.5 454.2 L320.5 454.2 L320 454.2 L320 454.2 L319.5 454.2 L319.5 454.2 L319 454.2 L319 454.2 L318.5 454.2 L318.5 454.2 L318 454.2 L318 454.2 L317.5 454.2 L317.5 454.2 L317 454.2 L317 454.2 L316.5 454.2 L316.5 454.2 L316 454.2 L316 454.2 L315.5 454.2 L315.5 454.2 L315 454.2 L315 454.2 L314.5 454.2 L314.5 454.2 L314 454.2 L314 454.2 L313.5 454.2 L313.5 454.2 L313 454.2 L313 454.2 L312.5 454.2 L312.5 454.2 L312 454.2 L312 454.2 L311.5 454.2 L311.5 454.2 L311 454.2 L311 454.2 L310.5 454.2 L310.5 454.2 L310 454.2 L310 454.2 L309.5 454.2 L309.5 454.2 L309 454.2 L309 454.2 L308.5 454.2 L308.5 454.2 L308 454.2 L308 454.2 L307.5 454.2 L307.5 454.2 L307 454.2 L307 454.2 L306.5 454.2 L306.5 454.2 L306 454.2 L306 454.2 L305.5 454.2 L305.5 454.2 L305 454.2 L305 454.2 L304.5 454.2 L304.5 454.2 L304 454.2 L304 454.2 L303.5 454.2 L303.5 454.2 L303 454.2 L303 454.2 L302.5 454.2 L302.5 454.2 L302 454.2 L302 454.2 L301.5 454.2 L301.5 454.2 L301 454.2 L301 454.2 L300.5 454.2 L300.5 454.2 L300 454.2 L300 454.2 L299.5 454.2 L299.5 454.2 L299 454.2 L299 454.5 L298.5 454.5 L298.5 454.1 L298 454.1 L298 453.7 L297.5 453.7 L297.5 453.1 L297 453.1 L297 452.8 L296.5 452.8 L296.5 452.3 L296 452.3 L296 451.8 L295.5 451.8 L295.5 451.8 L295 451.8 L295 452.4 L294.5 452.4 L294.5 451.6 L294 451.6 L294 452.3 L293.5 452.3 L293.5 452 L293 452 L293 451.7 L292.5 451.7 L292.5 452 L292 452 L292 453.5 L291.5 453.5 L291.5 454.2 L291 454.2 L291 454.2 L290.5 454.2 L290.5 454.2 L290 454.2 L290 454.2 L289.5 454.2 L289.5 454.2 L289 454.2 L289 454.2 L288.5 454.2 L288.5 454.2 L288 454.2 L288 454.2 L287.5 454.2 L287.5 454.2 L287 454.2 L287 454.2 L286.5 454.2 L286.5 454.2 L286 454.2 L286 454.2 L285.5 454.2 L285.5 454.2 L285 454.2 L285 454.2 L284.5 454.2 L284.5 454.2 L284 454.2 L284 454.2 L283.5 454.2 L283.5 454.2 L283 454.2 L283 454.2 L282.5 454.2 L282.5 454.2 L282 454.2 L282 454.2 L281.5 454.2 L281.5 454.2 L281 454.2 L281 454.2 L280.5 454.2 L280.5 454.2 L280 454.2 L280 454.2 L279.5 454.2 L279.5 454.2 L279 454.2 L279 454.2 L278.5 454.2 L278.5 454.2 L278 454.2 L278 454.2 L277.5 454.2 L277.5 454.2 L277 454.2 L277 454.2 L276.5 454.2 L276.5 454.2 L276 454.2 L276 454.2 L275.5 454.2 L275.5 454.2 L275 454.2 L275 454.2 L274.5 454.2 L274.5 454.2 L274 454.2 L274 454.2 L273.5 454.2 L273.5 454.2 L273 454.2 L273 454.2 L272.5 454.2 L272.5 454.2 L272 454.2 L272 454.2 L271.5 454.2 L271.5 454.2 L271 454.2 L271 454.2 L270.5 454.2 L270.5 454.2 L270 454.2 L270 453.8 L269.5 453.8 L269.5 453.7 L269 453.7 L269 453.7 L268.5 453.7 L268.5 452.7 L268 452.7 L268 452.4 L267.5 452.4 L267.5 451.9 L267 451.9 L267 452.2 L266.5 452.2 L266.5 452.2 L266 452.2 L266 451.8 L265.5 451.8 L265.5 451.7 L265 451.7 L265 451.5 L264.5 451.5 L264.5 452 L264 452 L264 451.5 L263.5 451.5 L263.5 451.8 L263 451.8 L263 452.9 L262.5 452.9 L262.5 454.2 L262 454.2 L262 454.2 L261.5 454.2 L261.5 454.2 L261 454.2 L261 454.2 L260.5 454.2 L260.5 454.2 L260 454.2 L260 454.2 L259.5 454.2 L259.5 454.2 L259 454.2 L259 454.2 L258.5 454.2 L258.5 454.2 L258 454.2 L258 454.2 L257.5 454.2 L257.5 454.2 L257 454.2 L257 454.2 L256.5 454.2 L256.5 454.2 L256 454.2 L256 454.2 L255.5 454.2 L255.5 454.2 L255 454.2 L255 454.2 L254.5 454.2 L254.5 454.2 L254 454.2 L254 454.2 L253.5 454.2 L253.5 454.2 L253 454.2 L253 454.2 L252.5 454.2 L252.5 454.2 L252 454.2 L252 454.2 L251.5 454.2 L251.5 454.2 L251 454.2 L251 454.2 L250.5 454.2 L250.5 454.2 L250 454.2 L250 454.2 L249.5 454.2 L249.5 454.2 L249 454.2 L249 454.2 L248.5 454.2 L248.5 454.2 L248 454.2 L248 454.2 L247.5 454.2 L247.5 454.2 L247 454.2 L247 454.2 L246.5 454.2 L246.5 454.2 L246 454.2 L246 454.2 L245.5 454.2 L245.5 454.2 L245 454.2 L245 454.2 L244.5 454.2 L244.5 454.2 L244 454.2 L244 454.2 L243.5 454.2 L243.5 454.2 L243 454.2 L243 453.9 L242.5 453.9 L242.5 454.2 L242 454.2 L242 453.8 L241.5 453.8 L241.5 453.4 L241 453.4 L241 452.8 L240.5 452.8 L240.5 452.5 L240 452.5 L240 452.5 L239.5 452.5 L239.5 452.2 L239 452.2 L239 452.1 L238.5 452.1 L238.5 451.8 L238 451.8 L238 451.4 L237.5 451.4 L237.5 451.7 L237 451.7 L237 451.7 L236.5 451.7 L236.5 451.6 L236 451.6 L236 451.8 L235.5 451.8 L235.5 451.7 L235 451.7 L235 451.8 L234.5 451.8 L234.5 451.7 L234 451.7 L234 451.2 L233.5 451.2 L233.5 452.6 L233 452.6 L233 454.2 L232.5 454.2 L232.5 454.2 L232 454.2 L232 454.2 L231.5 454.2 L231.5 454.2 L231 454.2 L231 454.2 L230.5 454.2 L230.5 454.2 L230 454.2 L230 454.2 L229.5 454.2 L229.5 454.2 L229 454.2 L229 454.2 L228.5 454.2 L228.5 454.2 L228 454.2 L228 454.2 L227.5 454.2 L227.5 454.2 L227 454.2 L227 454.2 L226.5 454.2 L226.5 454.2 L226 454.2 L226 454.2 L225.5 454.2 L225.5 454.2 L225 454.2 L225 454.2 L224.5 454.2 L224.5 454.2 L224 454.2 L224 454.2 L223.5 454.2 L223.5 454.2 L223 454.2 L223 454.2 L222.5 454.2 L222.5 454.2 L222 454.2 L222 454.2 L221.5 454.2 L221.5 454.2 L221 454.2 L221 454.2 L220.5 454.2 L220.5 454.2 L220 454.2 L220 454.2 L219.5 454.2 L219.5 454.2 L219 454.2 L219 453.9 L218.5 453.9 L218.5 453.9 L218 453.9 L218 453.7 L217.5 453.7 L217.5 453.5 L217 453.5 L217 453.1 L216.5 453.1 L216.5 453.2 L216 453.2 L216 452.8 L215.5 452.8 L215.5 452.3 L215 452.3 L215 452.8 L214.5 452.8 L214.5 452.3 L214 452.3 L214 452.5 L213.5 452.5 L213.5 451.9 L213 451.9 L213 452.4 L212.5 452.4 L212.5 452 L212 452 L212 451.8 L211.5 451.8 L211.5 451.8 L211 451.8 L211 452 L210.5 452 L210.5 452.3 L210 452.3 L210 451.7 L209.5 451.7 L209.5 452.1 L209 452.1 L209 452.1 L208.5 452.1 L208.5 452.1 L208 452.1 L208 451.4 L207.5 451.4 L207.5 451.3 L207 451.3 L207 451.9 L206.5 451.9 L206.5 451.6 L206 451.6 L206 451.9 L205.5 451.9 L205.5 451.8 L205 451.8 L205 451.5 L204.5 451.5 L204.5 452.6 L204 452.6 L204 454.2 L203.5 454.2 L203.5 454.2 L203 454.2 L203 454.2 L202.5 454.2 L202.5 454.2 L202 454.2 L202 454.2 L201.5 454.2 L201.5 454.2 L201 454.2 L201 454.2 L200.5 454.2 L200.5 454.2 L200 454.2 L200 454.2 L199.5 454.2 L199.5 454.2 L199 454.2 L199 454.2 L198.5 454.2 L198.5 454.2 L198 454.2 L198 454.2 L197.5 454.2 L197.5 454.2 L197 454.2 L197 454.2 L196.5 454.2 L196.5 454.2 L196 454.2 L196 454.2 L195.5 454.2 L195.5 454.2 L195 454.2 L195 454.2 L194.5 454.2 L194.5 454.2 L194 454.2 L194 454.2 L193.5 454.2 L193.5 454.2 L193 454.2 L193 454 L192.5 454 L192.5 453.9 L192 453.9 L192 454 L191.5 454 L191.5 453.6 L191 453.6 L191 453.9 L190.5 453.9 L190.5 453.3 L190 453.3 L190 452.7 L189.5 452.7 L189.5 453 L189 453 L189 452.9 L188.5 452.9 L188.5 452.3 L188 452.3 L188 452.6 L187.5 452.6 L187.5 452.5 L187 452.5 L187 452.1 L186.5 452.1 L186.5 452.6 L186 452.6 L186 452 L185.5 452 L185.5 451.8 L185 451.8 L185 451.7 L184.5 451.7 L184.5 452.3 L184 452.3 L184 451.6 L183.5 451.6 L183.5 451.8 L183 451.8 L183 452.2 L182.5 452.2 L182.5 451.8 L182 451.8 L182 451.7 L181.5 451.7 L181.5 452 L181 452 L181 451.4 L180.5 451.4 L180.5 451.3 L180 451.3 L180 451.5 L179.5 451.5 L179.5 451.2 L179 451.2 L179 451.4 L178.5 451.4 L178.5 451.4 L178 451.4 L178 451.1 L177.5 451.1 L177.5 451.8 L177 451.8 L177 451.3 L176.5 451.3 L176.5 451.8 L176 451.8 L176 451.6 L175.5 451.6 L175.5 451.2 L175 451.2 L175 451.4 L174.5 451.4 L174.5 454.2 L174 454.2 L174 454.2 L173.5 454.2 L173.5 454.2 L173 454.2 L173 454.2 L172.5 454.2 L172.5 454.2 L172 454.2 L172 454.2 L171.5 454.2 L171.5 454.2 L171 454.2 L171 454.2 L170.5 454.2 L170.5 454.2 L170 454.2 L170 454.2 L169.5 454.2 L169.5 454.2 L169 454.2 L169 454.2 L168.5 454.2 L168.5 454.2 L168 454.2 L168 454.2 L167.5 454.2 L167.5 454.2 L167 454.2 L167 454.2 L166.5 454.2 L166.5 454.2 L166 454.2 L166 454 L165.5 454 L165.5 454.1 L165 454.1 L165 453.9 L164.5 453.9 L164.5 454.2 L164 454.2 L164 454.1 L163.5 454.1 L163.5 453.4 L163 453.4 L163 453.5 L162.5 453.5 L162.5 453.1 L162 453.1 L162 453 L161.5 453 L161.5 452.5 L161 452.5 L161 452.8 L160.5 452.8 L160.5 452.2 L160 452.2 L160 452.6 L159.5 452.6 L159.5 452.2 L159 452.2 L159 452 L158.5 452 L158.5 452.2 L158 452.2 L158 452.3 L157.5 452.3 L157.5 452.5 L157 452.5 L157 452.1 L156.5 452.1 L156.5 451.7 L156 451.7 L156 452.4 L155.5 452.4 L155.5 452.2 L155 452.2 L155 451.8 L154.5 451.8 L154.5 451.9 L154 451.9 L154 452.1 L153.5 452.1 L153.5 451.3 L153 451.3 L153 452 L152.5 452 L152.5 452 L152 452 L152 451.5 L151.5 451.5 L151.5 451.4 L151 451.4 L151 451.8 L150.5 451.8 L150.5 451.5 L150 451.5 L150 451.9 L149.5 451.9 L149.5 451.1 L149 451.1 L149 451.3 L148.5 451.3 L148.5 451.3 L148 451.3 L148 451.6 L147.5 451.6 L147.5 451.4 L147 451.4 L147 451.1 L146.5 451.1 L146.5 451.2 L146 451.2 L146 452.7 L145.5 452.7 L145.5 454.2 L145 454.2 L145 454.2 L144.5 454.2 L144.5 454.2 L144 454.2 L144 454.2 L143.5 454.2 L143.5 454.2 L143 454.2 L143 454.2 L142.5 454.2 L142.5 454.2 L142 454.2 L142 454.2 L141.5 454.2 L141.5 454.2 L141 454.2 L141 454.2 L140.5 454.2 L140.5 454.2 L140 454.2 L140 454.2 L139.5 454.2 L139.5 454.2 L139 454.2 L139 454.2 L138.5 454.2 L138.5 454.2 L138 454.2 L138 454.1 L137.5 454.1 L137.5 453.9 L137 453.9 L137 454.4 L136.5 454.4 L136.5 453.9 L136 453.9 L136 453.7 L135.5 453.7 L135.5 453.5 L135 453.5 L135 453.2 L134.5 453.2 L134.5 453.3 L134 453.3 L134 453.2 L133.5 453.2 L133.5 453.4 L133 453.4 L133 452.6 L132.5 452.6 L132.5 453 L132 453 L132 452.9 L131.5 452.9 L131.5 452.4 L131 452.4 L131 452.3 L130.5 452.3 L130.5 452.4 L130 452.4 L130 451.9 L129.5 451.9 L129.5 452.6 L129 452.6 L129 452.3 L128.5 452.3 L128.5 452.1 L128 452.1 L128 451.8 L127.5 451.8 L127.5 452 L127 452 L127 452 L126.5 452 L126.5 452.2 L126 452.2 L126 451.6 L125.5 451.6 L125.5 452.1 L125 452.1 L125 451.6 L124.5 451.6 L124.5 451.9 L124 451.9 L124 451.3 L123.5 451.3 L123.5 451.2 L123 451.2 L123 451.5 L122.5 451.5 L122.5 451.3 L122 451.3 L122 451.6 L121.5 451.6 L121.5 451.2 L121 451.2 L121 451 L120.5 451 L120.5 451.2 L120 451.2 L120 451.1 L119.5 451.1 L119.5 451 L119 451 L119 451.4 L118.5 451.4 L118.5 451.4 L118 451.4 L118 451.1 L117.5 451.1 L117.5 451.6 L117 451.6 L117 451.8 L116.5 451.8 L116.5 454 L116 454 L116 454.2 L115.5 454.2 L115.5 454.2 L115 454.2 L115 454.2 L114.5 454.2 L114.5 454.2 L114 454.2 L114 454.2 L113.5 454.2 L113.5 454.2 L113 454.2 L113 454.2 L112.5 454.2 L112.5 454.2 L112 454.2 L112 454.1 L111.5 454.1 L111.5 453.9 L111 453.9 L111 454.4 L110.5 454.4 L110.5 454.1 L110 454.1 L110 454.2 L109.5 454.2 L109.5 453.5 L109 453.5 L109 453.8 L108.5 453.8 L108.5 453.2 L108 453.2 L108 453.1 L107.5 453.1 L107.5 453.2 L107 453.2 L107 453.3 L106.5 453.3 L106.5 453.1 L106 453.1 L106 452.5 L105.5 452.5 L105.5 452.4 L105 452.4 L105 452.2 L104.5 452.2 L104.5 452.3 L104 452.3 L104 452.4 L103.5 452.4 L103.5 452 L103 452 L103 452.2 L102.5 452.2 L102.5 452.1 L102 452.1 L102 452.6 L101.5 452.6 L101.5 452 L101 452 L101 451.8 L100.5 451.8 L100.5 451.9 L100 451.9 L100 451.8 L99.5 451.8 L99.5 452.2 L99 452.2 L99 451.6 L98.5 451.6 L98.5 451.6 L98 451.6 L98 451.4 L97.5 451.4 L97.5 451.4 L97 451.4 L97 451.6 L96.5 451.6 L96.5 451.8 L96 451.8 L96 451.4 L95.5 451.4 L95.5 451.7 L95 451.7 L95 451.4 L94.5 451.4 L94.5 451.4 L94 451.4 L94 451.7 L93.5 451.7 L93.5 451.7 L93 451.7 L93 451.1 L92.5 451.1 L92.5 451.5 L92 451.5 L92 451.1 L91.5 451.1 L91.5 451.2 L91 451.2 L91 451.3 L90.5 451.3 L90.5 451.4 L90 451.4 L90 451.1 L89.5 451.1 L89.5 450.8 L89 450.8 L89 450.8 L88.5 450.8 L88.5 451.1 L88 451.1 L88 450.9 L87.5 450.9 L87.5 451.1 L87 451.1 L87 452.2 L86.5 452.2 L86.5 453 L86 453 L86 453.5 L85.5 453.5 L85.5 452.9 L85 452.9 L85 452.9 L84.5 452.9 L84.5 453.2 L84 453.2 L84 452.9 L83.5 452.9 L83.5 453 L83 453 L83 453.3 L82.5 453.3 L82.5 452.7 L82 452.7 L82 453.3 L81.5 453.3 L81.5 453 L81 453 L81 452.8 L80.5 452.8 L80.5 453 L80 453 L80 452.6 L79.5 452.6 L79.5 452.4 L79 452.4 L79 452.6 L78.5 452.6 L78.5 452.4 L78 452.4 L78 452.2 L77.5 452.2 L77.5 452.6 L77 452.6 L77 452.7 L76.5 452.7 L76.5 452.5 L76 452.5 L76 452.1 L75.5 452.1 L75.5 452.2 L75 452.2 L75 451.9 L74.5 451.9 L74.5 452.5 L74 452.5 L74 451.9 L73.5 451.9 L73.5 452.3 L73 452.3 L73 452.3 L72.5 452.3 L72.5 451.9 L72 451.9 L72 452 L71.5 452 L71.5 451.7 L71 451.7 L71 451.5 L70.5 451.5 L70.5 451.6 L70 451.6 L70 451.3 L69.5 451.3 L69.5 451 L69 451 L69 451.1 L68.5 451.1 L68.5 451.2 L68 451.2 L68 450.8 L67.5 450.8 L67.5 450.7 L67 450.7 L67 450.5 L66.5 450.5 L66.5 450.7 L66 450.7 L66 450 L65.5 450 L65.5 449.8 L65 449.8 L65 450.1 L64.5 450.1 L64.5 450.2 L64 450.2 L64 450 L63.5 450 L63.5 449.5 L63 449.5 L63 449.6 L62.5 449.6 L62.5 449.1 L62 449.1 L62 449 L61.5 449 L61.5 448.6 L61 448.6 L61 448.3 L60.5 448.3 L60.5 448.7 L60 448.7 L60 448.5 L59.5 448.5 L59.5 448.3 L59 448.3 L59 448.5 L58.5 448.5 L58.5 450.2 L58 450.2 L58 451.4 L57.5 451.4 L57.5 452.4 L57 452.4 L57 452.3 L56.5 452.3 L56.5 451.7 L56 451.7 L56 452.3 L55.5 452.3 L55.5 452.2 L55 452.2 L55 452 L54.5 452 L54.5 451.9 L54 451.9 L54 451.8 L53.5 451.8 L53.5 451.9 L53 451.9 L53 451.6 L52.5 451.6 L52.5 451.8 L52 451.8 L52 451.2 L51.5 451.2 L51.5 451.2 L51 451.2 L51 451.2 L50.5 451.2 L50.5 451.7 L50 451.7 L50 451.2 L49.5 451.2 L49.5 451.3 L49 451.3 L49 450.9 L48.5 450.9 L48.5 450.6 L48 450.6 L48 450.9 L47.5 450.9 L47.5 451 L47 451 L47 450.9 L46.5 450.9 L46.5 451 L46 451 L46 450.3 L45.5 450.3 L45.5 450.6 L45 450.6 L45 450.5 L44.5 450.5 L44.5 450.1 L44 450.1 L44 450.3 L43.5 450.3 L43.5 450.4 L43 450.4 L43 449.5 L42.5 449.5 L42.5 449.4 L42 449.4 L42 449.9 L41.5 449.9 L41.5 449.2 L41 449.2 L41 449.1 L40.5 449.1 L40.5 448.8 L40 448.8 L40 449 L39.5 449 L39.5 449.2 L39 449.2 L39 448.4 L38.5 448.4 L38.5 448.4 L38 448.4 L38 448.1 L37.5 448.1 L37.5 448.5 L37 448.5 L37 447.9 L36.5 447.9 L36.5 447.4 L36 447.4 L36 447 L35.5 447 L35.5 446.8 L35 446.8 L35 446.4 L34.5 446.4 L34.5 446.5 L34 446.5 L34 446 L33.5 446 L33.5 446 L33 446 L33 445.5 L32.5 445.5 L32.5 444.4 L32 444.4 L32 444.4 L31.5 444.4 L31.5 444 L31 444 L31 443.9 L30.5 443.9 L30.5 444.3 L30 444.3 L30 446.3 L29.5 446.3 L29.5 450.5 L29 450.5 L29 454.2 L28.5 454.2 L28.5 454.2 L28 454.2 L28 454.2 L27.5 454.2 L27.5 454.2 L27 454.2 L27 454.2 L26.5 454.2 L26.5 454.2 L26 454.2 L26 454.2 L25.5 454.2 L25.5 454.2 L25 454.2 L25 454.2 L24.5 454.2 L24.5 454.2 L24 454.2 L24 454.2 L23.5 454.2 L23.5 454.2 L23 454.2 L23 454.2 L22.5 454.2 L22.5 454.2 L22 454.2 L22 454.2 L21.5 454.2 L21.5 454.2 L21 454.2 L21 454.2 L20.5 454.2 L20.5 454.2 L20 454.2 L20 454.2 L19.5 454.2 L19.5 454.2 L19 454.2 L19 454.2 L18.5 454.2 L18.5 454.2 L18 454.2 L18 454.2 L17.5 454.2 L17.5 454.2 L17 454.2 L17 454.2 L16.5 454.2 L16.5 454.2 L16 454.2 L16 454.2 L15.5 454.2 L15.5 454.2 L15 454.2 L15 454.2 L14.5 454.2 L14.5 454.2 L14 454.2 L14 454.2 L13.5 454.2 L13.5 454.2 L13 454.2 L13 454.2 L12.5 454.2 L12.5 454.2 L12 454.2 L12 454.2 L11.5 454.2 L11.5 454.2 L11 454.2 L11 454.2 L10.5 454.2 L10.5 454.2 L10 454.2 L10 454.2 L9.5 454.2 L9.5 454.2 L9 454.2 L9 454.2 L8.5 454.2 L8.5 454.2 L8 454.2 L8 454.2 L7.5 454.2 L7.5 454.2 L7 454.2 L7 454.2 L6.5 454.2 L6.5 454.2 L6 454.2 L6 454.2 L5.5 454.2 L5.5 454.2 L5 454.2 L5 454.2 L4.5 454.2 L4.5 454.2 L4 454.2 L4 454.2 L3.5 454.2 L3.5 454.2 L3 454.2Z" fill="#000"/>
<path d="M36.9 399 L37.2 372.6 L37.8 372.6 L38 399ZM58.1 401 L58.5 381 L59.1 381 L59.4 401ZM60.7 404 L60.9 397.3 L61.5 397.3 L61.7 404ZM90.3 432 L90.8 418.8 L91.3 418.8 L91.8 432ZM119.2 432 L119.7 419.8 L120.2 419.8 L120.7 432ZM145.3 438 L145.6 428.3 L146.2 428.3 L146.5 438ZM147.7 438 L147.9 427.6 L148.6 427.6 L148.8 438ZM174.1 438 L174.3 428.9 L175 428.9 L175.2 438ZM204 438 L204.2 428.9 L204.9 428.9 L205.2 438ZM232.8 441 L233.1 429.6 L233.8 429.6 L234 441ZM262.5 445 L262.8 437.4 L263.4 437.4 L263.8 445ZM291.7 445 L292 435.4 L292.6 435.4 L292.9 445ZM321.1 447 L321.3 440.7 L321.9 440.7 L322.2 447ZM349.8 446 L350 436.1 L350.6 436.1 L350.9 446ZM379.3 447 L379.6 440.7 L380.2 440.7 L380.4 447ZM408.1 447 L408.3 439.3 L408.9 439.3 L409.2 447Z" fill="#000"/>
<path d="M28.4 453.5 L28.5 68 L28.6 4.0 L29.85 4.0 L29.95 68 L30.95 68 L31.0 229 L31.7 229 L31.75 388 L32.2 388 L32.25 344.5 L33.05 344.5 L33.4 398 L33.4 445.6 L30.9 443.6 L30.2 444.5 L29.2 453.5Z" fill="#000"/>
<path d="M3 453.9 H430.3" stroke="#000" stroke-width="1.4" fill="none"/>
<path d="M18.3 453.6 V458.2M43.9 453.6 V458.2M69.5 453.6 V458.2M95.1 453.6 V458.2M120.7 453.6 V458.2M146.3 453.6 V458.2M171.9 453.6 V458.2M197.5 453.6 V458.2M223.1 453.6 V458.2M248.7 453.6 V458.2M274.3 453.6 V458.2M299.9 453.6 V458.2M325.5 453.6 V458.2M351.1 453.6 V458.2M376.7 453.6 V458.2M402.3 453.6 V458.2M427.9 453.6 V458.2" stroke="#000" stroke-width="1.2" fill="none"/>
<path d="M5.5 454.2 V456.1M9.8 454.2 V456.1M14 454.2 V456.1M22.6 454.2 V456.1M26.8 454.2 V456.1M31.1 454.2 V456.1M35.4 454.2 V456.1M39.6 454.2 V456.1M48.2 454.2 V456.1M52.4 454.2 V456.1M56.7 454.2 V456.1M61 454.2 V456.1M65.2 454.2 V456.1M73.8 454.2 V456.1M78 454.2 V456.1M82.3 454.2 V456.1M86.6 454.2 V456.1M90.8 454.2 V456.1M99.4 454.2 V456.1M103.6 454.2 V456.1M107.9 454.2 V456.1M112.2 454.2 V456.1M116.4 454.2 V456.1M125 454.2 V456.1M129.2 454.2 V456.1M133.5 454.2 V456.1M137.8 454.2 V456.1M142 454.2 V456.1M150.6 454.2 V456.1M154.8 454.2 V456.1M159.1 454.2 V456.1M163.4 454.2 V456.1M167.6 454.2 V456.1M176.2 454.2 V456.1M180.4 454.2 V456.1M184.7 454.2 V456.1M189 454.2 V456.1M193.2 454.2 V456.1M201.8 454.2 V456.1M206 454.2 V456.1M210.3 454.2 V456.1M214.6 454.2 V456.1M218.8 454.2 V456.1M227.4 454.2 V456.1M231.6 454.2 V456.1M235.9 454.2 V456.1M240.2 454.2 V456.1M244.4 454.2 V456.1M253 454.2 V456.1M257.2 454.2 V456.1M261.5 454.2 V456.1M265.8 454.2 V456.1M270 454.2 V456.1M278.6 454.2 V456.1M282.8 454.2 V456.1M287.1 454.2 V456.1M291.4 454.2 V456.1M295.6 454.2 V456.1M304.2 454.2 V456.1M308.4 454.2 V456.1M312.7 454.2 V456.1M317 454.2 V456.1M321.2 454.2 V456.1M329.8 454.2 V456.1M334 454.2 V456.1M338.3 454.2 V456.1M342.6 454.2 V456.1M346.8 454.2 V456.1M355.4 454.2 V456.1M359.6 454.2 V456.1M363.9 454.2 V456.1M368.2 454.2 V456.1M372.4 454.2 V456.1M381 454.2 V456.1M385.2 454.2 V456.1M389.5 454.2 V456.1M393.8 454.2 V456.1M398 454.2 V456.1M406.6 454.2 V456.1M410.8 454.2 V456.1M415.1 454.2 V456.1M419.4 454.2 V456.1M423.6 454.2 V456.1" stroke="#000" stroke-width="2.1" fill="none"/>
<path d="M119.6 403 V411.6" stroke="#000" stroke-width="1.5" fill="none"/><path d="M116.9 408.4 L119.6 409.7 L122.3 408.4 L119.6 416.6Z" fill="#000"/>
<path d="M147.2 418 V422" stroke="#000" stroke-width="1.1" fill="none"/><path d="M145.5 420.4 L147.2 421 L148.9 420.4 L147.2 424.5Z" fill="#000"/>
<path d="M175.2 405 V416.3" stroke="#000" stroke-width="1.7" fill="none"/><path d="M171.9 412.8 L175.2 414.2 L178.5 412.8 L175.2 421.7Z" fill="#000"/>
<path d="M204.8 419.6 V422.7" stroke="#000" stroke-width="1.1" fill="none"/><path d="M203.1 421.2 L204.8 421.8 L206.5 421.2 L204.8 425.1Z" fill="#000"/>
<path d="M233.6 406.2 V421.3" stroke="#000" stroke-width="1.7" fill="none"/><path d="M230.3 417.2 L233.6 418.8 L236.9 417.2 L233.6 427.6Z" fill="#000"/>
<path d="M263.4 421.8 V429" stroke="#000" stroke-width="1.3" fill="none"/><path d="M260.9 426.4 L263.4 427.4 L265.9 426.4 L263.4 433Z" fill="#000"/>
<path d="M289.8 407.4 V424" stroke="#000" stroke-width="1.7" fill="none"/><path d="M286.6 420.2 L289.8 421.7 L293 420.2 L289.8 430Z" fill="#000"/>
<path d="M321.2 423.6 V432.8" stroke="#000" stroke-width="1.4" fill="none"/><path d="M318.5 430 L321.2 431.1 L323.9 430 L321.2 437.2Z" fill="#000"/>
<text x="48.2" y="376.3" font-size="11.2"><tspan dy="-1.7" font-size="13">•</tspan><tspan dy="1.7" dx="-0.4">C</tspan><tspan dy="2.6" font-size="7.8" font-style="italic">60</tspan><tspan dy="-2.6">(</tspan><tspan dy="-2.8" dx="-0.5" font-size="7.6">i</tspan><tspan dy="2.8" dx="0.3">Bu)</tspan></text>
<text x="68.2" y="413.6" font-size="11.2"><tspan dy="-1.7" font-size="13">•</tspan><tspan dy="1.7" dx="-0.4">C</tspan><tspan dy="2.6" font-size="7.8" font-style="italic">60</tspan><tspan dy="-2.6">(</tspan><tspan dy="-2.8" dx="-0.5" font-size="7.6">i</tspan><tspan dy="2.8" dx="0.3">Bu)</tspan><tspan dy="2.6" font-size="7.8">2</tspan></text>
<text x="99.4" y="396.8" font-size="11.2"><tspan dy="-1.7" font-size="13">•</tspan><tspan dy="1.7" dx="-0.4">C</tspan><tspan dy="2.6" font-size="7.8" font-style="italic">60</tspan><tspan dy="-2.6">(</tspan><tspan dy="-2.8" dx="-0.5" font-size="7.6">i</tspan><tspan dy="2.8" dx="0.3">Bu)</tspan><tspan dy="2.6" font-size="7.8">3</tspan></text>
<text x="124.7" y="413.9" font-size="11.2"><tspan dy="-1.7" font-size="13">•</tspan><tspan dy="1.7" dx="-0.4">C</tspan><tspan dy="2.6" font-size="7.8" font-style="italic">60</tspan><tspan dy="-2.6">(</tspan><tspan dy="-2.8" dx="-0.5" font-size="7.6">i</tspan><tspan dy="2.8" dx="0.3">Bu)</tspan><tspan dy="2.6" font-size="7.8">4</tspan></text>
<text x="155.2" y="397.6" font-size="11.2"><tspan dy="-1.7" font-size="13">•</tspan><tspan dy="1.7" dx="-0.4">C</tspan><tspan dy="2.6" font-size="7.8" font-style="italic">60</tspan><tspan dy="-2.6">(</tspan><tspan dy="-2.8" dx="-0.5" font-size="7.6">i</tspan><tspan dy="2.8" dx="0.3">Bu)</tspan><tspan dy="2.6" font-size="7.8">5</tspan></text>
<text x="182" y="413.9" font-size="11.2"><tspan dy="-1.7" font-size="13">•</tspan><tspan dy="1.7" dx="-0.4">C</tspan><tspan dy="2.6" font-size="7.8" font-style="italic">60</tspan><tspan dy="-2.6">(</tspan><tspan dy="-2.8" dx="-0.5" font-size="7.6">i</tspan><tspan dy="2.8" dx="0.3">Bu)</tspan><tspan dy="2.6" font-size="7.8">6</tspan></text>
<text x="213.1" y="398.6" font-size="11.2"><tspan dy="-1.7" font-size="13">•</tspan><tspan dy="1.7" dx="-0.4">C</tspan><tspan dy="2.6" font-size="7.8" font-style="italic">60</tspan><tspan dy="-2.6">(</tspan><tspan dy="-2.8" dx="-0.5" font-size="7.6">i</tspan><tspan dy="2.8" dx="0.3">Bu)</tspan><tspan dy="2.6" font-size="7.8">7</tspan></text>
<text x="240.7" y="415.2" font-size="11.2"><tspan dy="-1.7" font-size="13">•</tspan><tspan dy="1.7" dx="-0.4">C</tspan><tspan dy="2.6" font-size="7.8" font-style="italic">60</tspan><tspan dy="-2.6">(</tspan><tspan dy="-2.8" dx="-0.5" font-size="7.6">i</tspan><tspan dy="2.8" dx="0.3">Bu)</tspan><tspan dy="2.6" font-size="7.8">8</tspan></text>
<text x="268.6" y="398.8" font-size="11.2"><tspan dy="-1.7" font-size="13">•</tspan><tspan dy="1.7" dx="-0.4">C</tspan><tspan dy="2.6" font-size="7.8" font-style="italic">60</tspan><tspan dy="-2.6">(</tspan><tspan dy="-2.8" dx="-0.5" font-size="7.6">i</tspan><tspan dy="2.8" dx="0.3">Bu)</tspan><tspan dy="2.6" font-size="7.8">9</tspan></text>
<text x="295.7" y="416.5" font-size="11.2"><tspan dy="-1.7" font-size="13">•</tspan><tspan dy="1.7" dx="-0.4">C</tspan><tspan dy="2.6" font-size="7.8" font-style="italic">60</tspan><tspan dy="-2.6">(</tspan><tspan dy="-2.8" dx="-0.5" font-size="7.6">i</tspan><tspan dy="2.8" dx="0.3">Bu)</tspan><tspan dy="2.6" font-size="7.8">10</tspan></text>
<text x="37" y="22.1" font-size="16.5">C<tspan dy="3.9" font-size="11.5">60</tspan></text>
<text x="171.4" y="18.9" font-size="16"><tspan dy="-4.2">•</tspan><tspan dy="4.2">C</tspan><tspan dy="2.8" font-size="11">60</tspan><tspan dy="-2.8">(</tspan><tspan dy="-6.7" font-size="12.5">i</tspan><tspan dy="6.7">Bu)</tspan><tspan dy="2.6" font-size="11">n</tspan></text>
<text x="322" y="45.9" font-size="15.8">Cr[η<tspan dy="-5.3" font-size="12.5">6</tspan><tspan dy="5.3">-(toluene)</tspan><tspan dy="3" font-size="11">2</tspan><tspan dy="-3">]</tspan><tspan dy="-5.6" font-size="11">+</tspan></text>
<text x="400" y="245.3" font-size="15" font-style="italic">H/G</text>
<text x="436.2" y="453.2" font-size="15">m/z</text>
<text class="sans" x="6" y="436.4" font-size="16.5" font-weight="bold">a</text>
<text class="sans" x="110.8" y="240.4" font-size="15.2" font-weight="bold">b</text>
<text class="sans num" x="17.4" y="474.2" font-size="11.4" letter-spacing="0.2" text-anchor="middle">700</text>
<text class="sans num" x="68.5" y="474.2" font-size="11.4" letter-spacing="0.2" text-anchor="middle">800</text>
<text class="sans num" x="119.8" y="474.2" font-size="11.4" letter-spacing="0.2" text-anchor="middle">900</text>
<text class="sans num" x="171.5" y="474.2" font-size="11.4" letter-spacing="0.2" text-anchor="middle">1000</text>
<text class="sans num" x="222.7" y="474.2" font-size="11.4" letter-spacing="0.2" text-anchor="middle">1100</text>
<text class="sans num" x="273.9" y="474.2" font-size="11.4" letter-spacing="0.2" text-anchor="middle">1200</text>
<text class="sans num" x="325.1" y="474.2" font-size="11.4" letter-spacing="0.2" text-anchor="middle">1300</text>
<text class="sans num" x="376.3" y="474.2" font-size="11.4" letter-spacing="0.2" text-anchor="middle">1400</text>
<text class="sans num" x="427.5" y="474.2" font-size="11.4" letter-spacing="0.2" text-anchor="middle">1500</text>
<text class="sans num" x="103.5" y="271.3" font-size="10" letter-spacing="0.4" text-anchor="middle">3250</text>
<text class="sans num" x="162.9" y="271.3" font-size="10" letter-spacing="0.4" text-anchor="middle">3270</text>
<text class="sans num" x="222.3" y="271.3" font-size="10" letter-spacing="0.4" text-anchor="middle">3290</text>
<text class="sans num" x="282.5" y="271.3" font-size="10" letter-spacing="0.4" text-anchor="middle">3310</text>
<text class="sans num" x="340.6" y="271.3" font-size="10" letter-spacing="0.4" text-anchor="middle">3330</text>
<text class="sans num" x="399" y="271.3" font-size="10" letter-spacing="0.4" text-anchor="middle">3350</text>
</svg></body></html>
